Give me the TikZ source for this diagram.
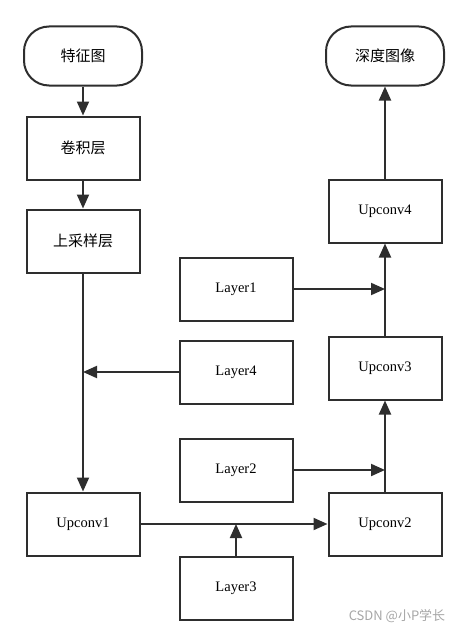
\documentclass[tikz,border=0pt]{standalone}
\usepackage{fontspec}
\setmainfont{Liberation Serif}
\newfontfamily\cjk{Noto Sans CJK SC}
\usetikzlibrary{arrows.meta}
\definecolor{linegray}{HTML}{2E2E2E}

\begin{document}
\begin{tikzpicture}[
    x=1pt, y=-1pt,
    every node/.style={font=\fontsize{14.5}{17}\selectfont},
    box/.style={draw=linegray,line width=2pt,minimum width=113pt,
        minimum height=63pt,inner sep=0pt},
    term/.style={box,minimum width=118pt,minimum height=59pt,rounded corners=25pt},
    flow/.style={draw=linegray,line width=2pt,
        -{Triangle[length=14pt,width=12pt]}}]
    \useasboundingbox (0,0) rectangle (472,634);

    % Linke Spalte
    \node[term] (tz) at (83,56) {\cjk\fontsize{15}{17}\selectfont 特征图};
    \node[box] (jj) at (83,148) {\cjk\fontsize{15}{17}\selectfont 卷积层};
    \node[box] (sc) at (83,241) {\cjk\fontsize{15}{17}\selectfont 上采样层};
    \node[box] (up1) at (83,524) {Upconv1};

    % Mittlere Spalte
    \node[box] (l1) at (236,289) {Layer1};
    \node[box] (l4) at (236,372) {Layer4};
    \node[box] (l2) at (236,470) {Layer2};
    \node[box] (l3) at (236,588) {Layer3};

    % Rechte Spalte
    \node[term] (sd) at (385,56) {\cjk\fontsize{15}{17}\selectfont 深度图像};
    \node[box] (up4) at (385,211) {Upconv4};
    \node[box] (up3) at (385,368) {Upconv3};
    \node[box] (up2) at (385,524) {Upconv2};

    \draw[flow] (tz) -- (jj);
    \draw[flow] (jj) -- (sc);
    \draw[flow] (sc) -- (up1);
    \draw[flow] (l4.west) -- (l4.west -| sc.south);
    \draw[flow] (up1) -- (up2);
    \draw[flow] (l3.north) -- (l3.north |- up1.east);
    \draw[flow] (up2) -- (up3);
    \draw[flow] (l2.east) -- (l2.east -| up2.north);
    \draw[flow] (up3) -- (up4);
    \draw[flow] (l1.east) -- (l1.east -| up3.north);
    \draw[flow] (up4) -- (sd);

    \node[text=black!35,font=\cjk\fontsize{13}{15}\selectfont] (wm) at (397,616)
        {CSDN @小P学长};
\end{tikzpicture}
\end{document}
